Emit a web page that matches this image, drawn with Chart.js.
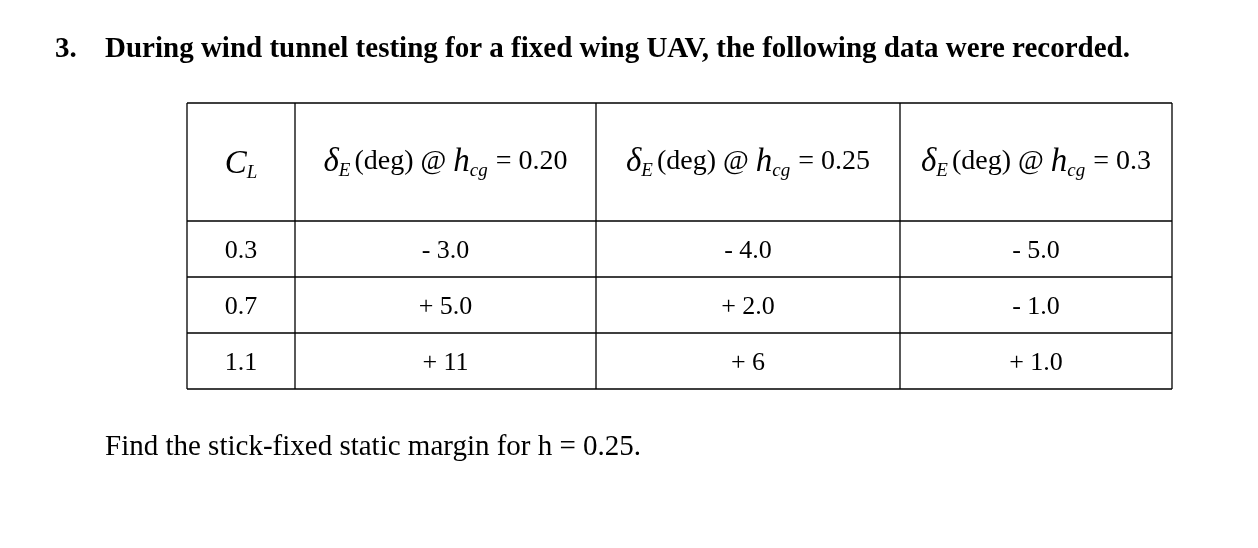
<!DOCTYPE html>
<html><head><meta charset="utf-8">
<script src="https://cdn.jsdelivr.net/npm/chart.js@4.4.0/dist/chart.umd.min.js"></script>
<style>html,body{margin:0;background:#fff}#w{width:1258px;height:548px}</style>
</head><body><div id="w"><canvas id="c"></canvas></div>
<script>
const titleNumber = "3.";
const title = "During wind tunnel testing for a fixed wing UAV, the following data were recorded.";
const footer = "Find the stick-fixed static margin for h = 0.25.";
const hcgValues = ["0.20", "0.25", "0.3"];
const clValues = ["0.3", "0.7", "1.1"];
const deltaAtH020 = ["- 3.0", "+ 5.0", "+ 11"];
const deltaAtH025 = ["- 4.0", "+ 2.0", "+ 6"];
const deltaAtH030 = ["- 5.0", "- 1.0", "+ 1.0"];

const colEdges = [187, 295, 596, 900, 1172];
const rowEdges = [103, 221, 277, 333, 389];
const SERIF = '"Liberation Serif", "DejaVu Serif", serif';

function runs(ctx, segs, x, y, center) {
  let w = 0;
  segs.forEach(s => { ctx.font = s.f; w += ctx.measureText(s.t).width + (s.g || 0); });
  let cx = center ? x - w / 2 : x;
  segs.forEach(s => { ctx.font = s.f; ctx.fillText(s.t, cx, y + (s.dy || 0)); cx += ctx.measureText(s.t).width + (s.g || 0); });
}

const tablePlugin = {
  id: 'table',
  afterDraw(chart) {
    const ctx = chart.ctx, xs = chart.scales.x, ys = chart.scales.y;
    const X = v => xs.getPixelForValue(v), Y = v => ys.getPixelForValue(v);
    ctx.save();
    ctx.fillStyle = '#000'; ctx.strokeStyle = '#000'; ctx.lineWidth = 1.3;
    ctx.textBaseline = 'middle'; ctx.textAlign = 'left';
    ctx.font = 'bold 29px ' + SERIF;
    ctx.fillText(titleNumber, X(55), Y(50));
    ctx.fillText(title, X(105), Y(50));
    ctx.font = '29px ' + SERIF;
    ctx.fillText(footer, X(105), Y(447));
    ctx.beginPath();
    colEdges.forEach(c => { ctx.moveTo(X(c), Y(rowEdges[0])); ctx.lineTo(X(c), Y(rowEdges[rowEdges.length-1])); });
    rowEdges.forEach(r => { ctx.moveTo(X(colEdges[0]), Y(r)); ctx.lineTo(X(colEdges[colEdges.length-1]), Y(r)); });
    ctx.stroke();
    const hy = Y((rowEdges[0] + rowEdges[1]) / 2);
    const c0 = X((colEdges[0] + colEdges[1]) / 2);
    runs(ctx, [{t:'C', f:'italic 33px ' + SERIF}, {t:'L', f:'italic 19px ' + SERIF, dy:9}], c0, hy + 2, true);
    hcgValues.forEach((h, i) => {
      const cx = X((colEdges[i+1] + colEdges[i+2]) / 2);
      runs(ctx, [
        {t:'δ', f:'italic 33px ' + SERIF},
        {t:'E', f:'italic 19px ' + SERIF, dy:9, g:4},
        {t:'(deg) @ ', f:'28px ' + SERIF},
        {t:'h', f:'italic 33px ' + SERIF},
        {t:'cg', f:'italic 19px ' + SERIF, dy:9, g:8},
        {t:'= ' + h, f:'28px ' + SERIF}
      ], cx, hy, true);
    });
    const cols = [clValues, deltaAtH020, deltaAtH025, deltaAtH030];
    cols.forEach((col, ci) => col.forEach((v, ri) => {
      ctx.font = '26px ' + SERIF; ctx.textAlign = 'center';
      ctx.fillText(v, X((colEdges[ci] + colEdges[ci+1]) / 2), Y((rowEdges[ri+1] + rowEdges[ri+2]) / 2 + 2));
    }));
    ctx.restore();
  }
};

new Chart(document.getElementById('c'), {
  type: 'scatter',
  data: { datasets: [{ data: [] }] },
  options: {
    responsive: true, maintainAspectRatio: false, animation: false,
    layout: { padding: 0 },
    plugins: { legend: { display: false }, tooltip: { enabled: false } },
    scales: {
      x: { type: 'linear', min: 0, max: 1258, display: false },
      y: { type: 'linear', min: 0, max: 548, reverse: true, display: false }
    }
  },
  plugins: [tablePlugin]
});
</script></body></html>
